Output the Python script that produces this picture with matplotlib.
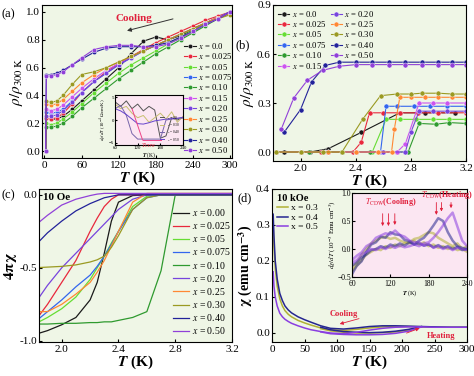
import numpy as np
import matplotlib
matplotlib.use("Agg")
import matplotlib.pyplot as plt

# ---------------- data ----------------
labels_a = ["0.0", "0.025", "0.05", "0.075", "0.10", "0.15", "0.20", "0.25", "0.30", "0.40", "0.50"]
colors = {
    "0.0": "#1a1a1a", "0.00": "#1a1a1a", "0.025": "#e8283c", "0.05": "#66dd33", "0.075": "#3366ee",
    "0.10": "#2f9a2f", "0.15": "#cc55ee", "0.20": "#7744dd", "0.25": "#ff8833",
    "0.30": "#9a9a22", "0.40": "#222299", "0.50": "#9040d8",
}

# panel (a): rho/rho300 vs T
T_a = [1.8, 3, 10, 20, 30, 45, 60, 80, 100, 120, 140, 160, 180, 200, 220, 240, 260, 280, 300]
rho_a = {
    "0.0":   [0, 0.24, 0.23, 0.23, 0.25, 0.30, 0.36, 0.44, 0.52, 0.60, 0.70, 0.79, 0.82, 0.80, 0.83, 0.87, 0.92, 0.96, 1.00],
    "0.025": [0, 0.24, 0.23, 0.24, 0.27, 0.34, 0.42, 0.50, 0.57, 0.63, 0.68, 0.73, 0.78, 0.82, 0.86, 0.90, 0.94, 0.97, 1.00],
    "0.05":  [0, 0.20, 0.19, 0.20, 0.23, 0.28, 0.34, 0.42, 0.49, 0.56, 0.62, 0.67, 0.72, 0.77, 0.82, 0.87, 0.91, 0.96, 1.00],
    "0.075": [0, 0.28, 0.27, 0.28, 0.30, 0.36, 0.42, 0.50, 0.56, 0.62, 0.67, 0.72, 0.76, 0.80, 0.84, 0.88, 0.92, 0.96, 1.00],
    "0.10":  [0, 0.175, 0.17, 0.18, 0.20, 0.25, 0.31, 0.38, 0.45, 0.52, 0.58, 0.64, 0.70, 0.75, 0.80, 0.85, 0.90, 0.95, 0.99],
    "0.15":  [0, 0.30, 0.29, 0.30, 0.33, 0.39, 0.45, 0.52, 0.58, 0.63, 0.68, 0.72, 0.76, 0.80, 0.84, 0.88, 0.92, 0.96, 1.00],
    "0.20":  [0, 0.25, 0.25, 0.26, 0.29, 0.35, 0.42, 0.50, 0.56, 0.62, 0.67, 0.72, 0.76, 0.80, 0.84, 0.88, 0.92, 0.96, 1.00],
    "0.25":  [0, 0.335, 0.33, 0.34, 0.37, 0.43, 0.49, 0.55, 0.60, 0.64, 0.68, 0.72, 0.76, 0.80, 0.84, 0.88, 0.92, 0.96, 0.99],
    "0.30":  [0, 0.36, 0.35, 0.36, 0.40, 0.48, 0.55, 0.57, 0.60, 0.64, 0.68, 0.72, 0.76, 0.80, 0.84, 0.88, 0.92, 0.95, 0.98],
    "0.40":  [0, 0.55, 0.55, 0.56, 0.58, 0.62, 0.66, 0.71, 0.74, 0.75, 0.75, 0.75, 0.76, 0.78, 0.82, 0.86, 0.91, 0.95, 1.00],
    "0.50":  [0, 0.54, 0.54, 0.55, 0.57, 0.62, 0.67, 0.73, 0.75, 0.76, 0.76, 0.75, 0.75, 0.77, 0.81, 0.86, 0.91, 0.95, 1.00],
}

# panel (a) inset: drho/dT
T_ai = [60, 75, 90, 105, 120, 135, 150, 165, 180, 195, 210, 225, 240]
drho_ai = {
    "0.0":  [4.0, 3.0, 4.2, 2.5, 3.5, 2.0, 3.0, 2.2, -4.0, -3.5, 0.5, 0.0, 0.5],
    "0.30": [3.5, 2.5, 3.0, 1.5, 0.5, 1.0, -0.5, 0.5, 1.5, 0.2, 1.8, -0.5, 0.8],
    "0.40": [2.5, 3.2, 1.0, -3.0, -4.2, -4.2, -4.2, -4.2, -4.2, 0.0, 0.2, 0.3, 0.5],
    "0.50": [2.5, 2.0, 1.2, 0.2, -0.8, -0.9, -0.6, -0.2, 0.0, 0.2, 0.3, 0.4, 0.6],
}

# panel (b): low-T transitions
T_b = {
    "0.0":   [1.88, 2.07, 2.2, 2.44, 2.72, 2.9, 3.12],
    "0.025": [1.82, 2.0, 2.15, 2.3, 2.38, 2.44, 2.5, 2.6, 2.72, 2.85, 3.0, 3.2],
    "0.05":  [1.82, 2.0, 2.2, 2.4, 2.52, 2.62, 2.72, 2.84, 2.96, 3.08, 3.2],
    "0.075": [1.82, 2.0, 2.2, 2.4, 2.58, 2.62, 2.7, 2.82, 2.94, 3.06, 3.2],
    "0.10":  [1.82, 2.06, 2.3, 2.5, 2.7, 2.78, 2.86, 2.98, 3.08, 3.2],
    "0.15":  [1.82, 2.0, 2.2, 2.4, 2.6, 2.7, 2.76, 2.86, 2.96, 3.06, 3.2],
    "0.20":  [1.82, 2.0, 2.2, 2.4, 2.6, 2.76, 2.8, 2.86, 2.96, 3.06, 3.2],
    "0.25":  [1.82, 2.0, 2.2, 2.4, 2.56, 2.66, 2.68, 2.72, 2.8, 2.9, 3.0, 3.1, 3.2],
    "0.30":  [1.82, 2.0, 2.16, 2.3, 2.45, 2.58, 2.7, 2.8, 2.88, 3.0, 3.1, 3.2],
    "0.40":  [1.88, 2.0, 2.08, 2.18, 2.28, 2.4, 2.52, 2.64, 2.76, 2.88, 3.0, 3.1, 3.2],
    "0.50":  [1.86, 1.95, 2.05, 2.16, 2.28, 2.4, 2.52, 2.64, 2.76, 2.88, 3.0, 3.1, 3.2],
}
rho_b = {
    "0.0":   [0, 0, 0.02, 0.12, 0.24, 0.24, 0.24],
    "0.025": [0, 0, 0, 0, 0, 0.06, 0.24, 0.24, 0.24, 0.24, 0.24, 0.24],
    "0.05":  [0, 0, 0, 0, 0, 0.2, 0.2, 0.2, 0.2, 0.2, 0.2],
    "0.075": [0, 0, 0, 0, 0, 0.28, 0.28, 0.28, 0.28, 0.28, 0.28],
    "0.10":  [0, 0, 0, 0, 0, 0, 0.175, 0.17, 0.18, 0.175],
    "0.15":  [0, 0, 0, 0, 0, 0, 0.05, 0.3, 0.3, 0.3, 0.3],
    "0.20":  [0, 0, 0, 0, 0, 0, 0.12, 0.25, 0.25, 0.25, 0.25],
    "0.25":  [0, 0, 0, 0, 0, 0, 0.14, 0.335, 0.335, 0.335, 0.335, 0.335, 0.335],
    "0.30":  [0, 0, 0, 0, 0.2, 0.345, 0.355, 0.355, 0.36, 0.36, 0.355, 0.355],
    "0.40":  [0.12, 0.26, 0.43, 0.53, 0.55, 0.55, 0.55, 0.55, 0.55, 0.55, 0.55, 0.55, 0.55],
    "0.50":  [0.14, 0.33, 0.44, 0.50, 0.525, 0.535, 0.535, 0.535, 0.535, 0.535, 0.535, 0.535, 0.535],
}
labels_b_col = ["0.0", "0.025", "0.05", "0.075", "0.10", "0.15", "0.20", "0.25", "0.30", "0.40", "0.50"]

# panel (c): 4 pi chi vs T (10 Oe)
labels_c = ["0.00", "0.025", "0.05", "0.075", "0.10", "0.20", "0.25", "0.30", "0.40", "0.50"]
T_c = [1.8, 1.9, 2.0, 2.1, 2.2, 2.25, 2.3, 2.35, 2.4, 2.5, 2.6, 2.7, 2.8, 3.0, 3.2]
chi_c = {
    "0.00":  [-0.96, -0.93, -0.89, -0.84, -0.72, -0.6, -0.4, -0.18, -0.05, -0.005, 0.0, 0.0, 0.0, 0.0, 0.0],
    "0.025": [-0.88, -0.75, -0.6, -0.45, -0.25, -0.16, -0.08, -0.03, 0.0, 0.0, 0.0, 0.0, 0.0, 0.0, 0.0],
    "0.05":  [-0.89, -0.84, -0.78, -0.7, -0.58, -0.5, -0.42, -0.33, -0.25, -0.08, -0.01, 0.0, 0.0, 0.0, 0.0],
    "0.075": [-0.88, -0.8, -0.72, -0.63, -0.55, -0.49, -0.42, -0.34, -0.25, -0.1, -0.02, 0.0, 0.0, 0.0, 0.0],
    "0.10":  [-0.885, -0.885, -0.88, -0.88, -0.875, -0.875, -0.87, -0.87, -0.86, -0.84, -0.8, -0.52, 0.0, 0.0, 0.0],
    "0.20":  [-0.76, -0.62, -0.5, -0.4, -0.3, -0.25, -0.2, -0.15, -0.1, -0.03, 0.0, 0.0, 0.0, 0.0, 0.0],
    "0.25":  [-0.8, -0.8, -0.75, -0.68, -0.6, -0.53, -0.45, -0.35, -0.25, -0.05, 0.01, 0.01, 0.01, 0.01, 0.01],
    "0.30":  [-0.5, -0.495, -0.49, -0.48, -0.46, -0.445, -0.42, -0.36, -0.28, -0.1, -0.02, 0.0, 0.0, 0.0, 0.0],
    "0.40":  [-0.36, -0.26, -0.18, -0.11, -0.06, -0.04, -0.02, -0.01, 0.0, 0.0, 0.0, 0.0, 0.0, 0.0, 0.0],
    "0.50":  [-0.22, -0.14, -0.07, -0.03, -0.005, 0.005, 0.01, 0.01, 0.01, 0.01, 0.01, 0.01, 0.01, 0.01, 0.01],
}

# panel (d): chi vs T (10 kOe), cooling branch + heating branch
labels_d = ["0.3", "0.4", "0.5"]
colors_d = {"0.3": "#b0b035", "0.4": "#262690", "0.5": "#8a3ee0"}
T_d = [1.8, 3, 5, 8, 12, 16, 20, 25, 30, 40, 50, 60, 75, 90, 110, 130, 150, 170, 190, 210, 230, 250, 275, 300]
chi_d_cool = {
    "0.3": [0.30, 0.24, 0.18, 0.13, 0.095, 0.075, 0.062, 0.052, 0.045, 0.035, 0.028, 0.022, 0.014, 0.009, 0.007, 0.010, 0.014, 0.017, 0.018, 0.018, 0.017, 0.016, 0.016, 0.016],
    "0.4": [0.33, 0.27, 0.20, 0.15, 0.11, 0.090, 0.075, 0.064, 0.056, 0.045, 0.037, 0.030, 0.020, 0.013, 0.011, 0.014, 0.018, 0.020, 0.020, 0.019, 0.018, 0.017, 0.016, 0.016],
    "0.5": [0.17, 0.13, 0.10, 0.075, 0.055, 0.045, 0.038, 0.032, 0.027, 0.020, 0.014, 0.009, 0.004, 0.000, -0.002, 0.002, 0.008, 0.013, 0.016, 0.017, 0.017, 0.016, 0.016, 0.016],
}
T_dh = [75, 90, 110, 130, 150, 170, 190, 210, 230]
chi_d_heat = {
    "0.3": [0.012, 0.006, 0.002, 0.000, 0.000, 0.001, 0.003, 0.008, 0.017],
    "0.4": [0.016, 0.009, 0.004, 0.002, 0.001, 0.002, 0.005, 0.010, 0.018],
    "0.5": [0.003, -0.002, -0.004, -0.005, -0.005, -0.004, -0.001, 0.005, 0.017],
}

# panel (d) inset: dchi/dT
T_di = [60, 67.5, 75, 82.5, 90, 97.5, 105, 112.5, 120, 127.5, 135, 142.5, 150,
        157.5, 165, 172.5, 180, 187.5, 195, 202.5, 210, 217.5, 225, 232.5, 240]
dchi_cool = {
    "0.3": [-0.35, -0.25, -0.1, 0.0, 0.1, 0.15, 0.2, 0.22, 0.18, 0.2, 0.15, 0.12, 0.1, 0.15, 0.08, 0.12, 0.05, 0.08, 0.02, 0.05, 0.0, 0.03, -0.02, 0.0, -0.05],
    "0.4": [-0.45, -0.3, -0.22, -0.05, 0.08, 0.12, 0.22, 0.2, 0.3, 0.26, 0.25, 0.16, 0.14, 0.08, 0.1, 0.06, 0.08, 0.03, 0.07, 0.02, 0.05, 0.0, 0.04, -0.02, 0.0],
    "0.5": [-0.2, -0.12, -0.06, 0.05, 0.1, 0.2, 0.24, 0.28, 0.26, 0.33, 0.25, 0.22, 0.15, 0.12, 0.12, 0.06, 0.09, 0.02, 0.05, 0.0, 0.03, -0.02, 0.02, 0.0, -0.02],
}
dchi_heat = {
    "0.3": [-0.4, -0.3, -0.2, -0.1, -0.05, 0.0, -0.02, 0.05, 0.02, 0.08, 0.05, 0.1, 0.12, 0.18, 0.2, 0.25, 0.3, 0.28, 0.2, 0.15, 0.1, 0.05, 0.1, 0.0, 0.05],
    "0.4": [-0.3, -0.24, -0.15, -0.1, -0.02, 0.0, 0.05, 0.02, 0.08, 0.05, 0.1, 0.06, 0.12, 0.08, 0.15, 0.2, 0.3, 0.42, 0.55, 0.5, 0.3, 0.15, 0.05, 0.02, 0.0],
    "0.5": [-0.25, -0.2, -0.1, -0.05, 0.0, -0.02, 0.03, 0.0, 0.05, 0.02, 0.06, 0.03, 0.05, 0.08, 0.05, 0.1, 0.12, 0.2, 0.3, 0.42, 0.55, 0.65, 0.4, 0.15, 0.05],
}

# ---------------- style ----------------
plt.rcParams.update({
    "font.family": "Liberation Serif",
    "mathtext.fontset": "stix",
    "font.size": 8,
    "xtick.direction": "in",
    "ytick.direction": "in",
    "xtick.major.size": 2.5,
    "ytick.major.size": 2.5,
    "xtick.major.pad": 2,
    "ytick.major.pad": 1.5,
    "axes.linewidth": 0.8,
})

W, H = 474, 376
fig = plt.figure(figsize=(W / 100, H / 100), dpi=100)
fig.patch.set_facecolor("white")


def px_axes(left, top, right, bottom):
    return fig.add_axes([left / W, 1 - bottom / H, (right - left) / W, (bottom - top) / H])


bg = "#eff6e6"
pink = "#fbe6f2"
red = "#e0203c"
xlab = r"$\mathbfit{T}$ (K)"


def xl(s):
    return r"$\mathit{x}$ = " + s


# ---------- (a) ----------
ax = px_axes(42, 5, 232, 158)
ax.set_facecolor(bg)
for k in labels_a:
    ax.plot(T_a, rho_a[k], "-o", color=colors[k], lw=0.8, ms=3.2, mec="white", mew=0.3, label=xl(k))
ax.set_xlim(-4, 303)
ax.set_ylim(-0.05, 1.05)
ax.set_xticks([0, 60, 120, 180, 240, 300])
ax.set_yticks([0, 0.2, 0.4, 0.6, 0.8, 1.0])
ax.set_xlabel(xlab, fontsize=11, fontweight="bold", labelpad=0)
ax.set_ylabel(r"$\rho/\rho_{\rm 300\ K}$", fontsize=11, labelpad=1)
ax.legend(loc="upper right", bbox_to_anchor=(1.03, 0.8), fontsize=6.2, frameon=False,
          handlelength=1.3, labelspacing=0.05, handletextpad=0.3, borderpad=0.1)
ax.text(145, 0.95, "Cooling", color=red, fontsize=8, fontweight="bold", ha="center", va="center")
ax.annotate("", xy=(129, 0.86), xytext=(212, 0.955),
            arrowprops=dict(arrowstyle="-|>", color="#333333", lw=0.7, mutation_scale=6))
fig.text(1 / W, 1 - 14 / H, "(a)", fontsize=9, va="center")

axi = px_axes(115, 95, 183, 145)
axi.set_facecolor(pink)
inset_cols = {"0.0": "#555555", "0.30": "#c8c070", "0.40": "#7766aa", "0.50": "#6644cc"}
for k, arr in drho_ai.items():
    axi.plot(T_ai, arr, color=inset_cols[k], lw=0.7, label=xl(k))
axi.plot([105, 133], [2.5, -4.4], color="#ee4488", lw=0.7)
axi.plot([133, 182], [-4.4, -4.4], color="#ee4488", lw=0.7)
axi.text(128, -4.6, r"$T_{\rm CDW}$", color=red, fontsize=4.5, fontweight="bold", va="top")
axi.set_xlim(60, 240)
axi.set_ylim(-5.5, 5.5)
axi.set_xticks([60, 120, 180, 240])
axi.set_yticks([-5, 0, 5])
axi.tick_params(labelsize=3.5, length=1.2, pad=0.8)
axi.set_xlabel(xlab, fontsize=4, labelpad=0)
axi.set_ylabel(r"$d\rho/dT$ (10$^{-4}$ $\Omega$cm/K)", fontsize=3.5, labelpad=0)
axi.legend(loc="lower right", fontsize=2.5, frameon=False, handlelength=1.2, labelspacing=0.1,
           borderpad=0.2)

# ---------- (b) ----------
ax = px_axes(273, 5, 466, 161)
ax.set_facecolor(bg)
for k in labels_b_col:
    ax.plot(T_b[k], rho_b[k], "-o", color=colors[k], lw=0.8, ms=3.6, mec="white", mew=0.3, label=xl(k))
ax.set_xlim(1.8, 3.2)
ax.set_ylim(-0.055, 0.9)
ax.set_xticks([2.0, 2.4, 2.8, 3.2])
ax.set_yticks([0.0, 0.3, 0.6, 0.9])
ax.set_xlabel(xlab, fontsize=11, fontweight="bold", labelpad=0)
ax.set_ylabel(r"$\rho/\rho_{\rm 300\ K}$", fontsize=11, labelpad=1)
ax.legend(loc="upper left", ncol=2, fontsize=6.2, frameon=False, handlelength=1.3,
          labelspacing=0.05, handletextpad=0.3, columnspacing=0.5, borderpad=0.1,
          bbox_to_anchor=(0.0, 1.01))
fig.text(236 / W, 1 - 45 / H, "(b)", fontsize=9, va="center")

# ---------- (c) ----------
ax = px_axes(39, 189, 232, 342)
ax.set_facecolor(bg)
for k in labels_c:
    ax.plot(T_c, chi_c[k], color=colors[k], lw=0.9, label=xl(k))
ax.set_xlim(1.84, 3.2)
ax.set_ylim(-1.008, 0.04)
ax.set_xticks([2.0, 2.4, 2.8, 3.2])
ax.set_yticks([-1.0, -0.5, 0.0])
ax.set_yticklabels(["-1.0", "-0.5", "0.0"])
ax.set_xlabel(xlab, fontsize=11, fontweight="bold", labelpad=0)
ax.set_ylabel(r"$\mathbf{4\pi\chi}$", fontsize=11, labelpad=0)
ax.text(0.02, 0.975, "10 Oe", transform=ax.transAxes, fontsize=8, fontweight="bold", va="top")
ax.legend(loc="center right", bbox_to_anchor=(1.02, 0.46), fontsize=7, frameon=False,
          handlelength=1.6, labelspacing=0.22, handletextpad=0.3, borderpad=0.1)
fig.text(1 / W, 1 - 195 / H, "(c)", fontsize=9, va="center")

# ---------- (d) ----------
ax = px_axes(272, 189, 467, 342)
ax.set_facecolor(bg)
for k in labels_d:
    ax.plot(T_d, chi_d_cool[k], color=colors_d[k], lw=1.1, label=r"x = " + k)
    ax.plot(T_dh, chi_d_heat[k], color=colors_d[k], lw=1.1)
ax.set_xlim(0, 300)
ax.set_ylim(-0.025, 0.4)
ax.set_xticks([0, 50, 100, 150, 200, 250, 300])
ax.set_yticks([0.0, 0.1, 0.2, 0.3, 0.4])
ax.set_xlabel(xlab, fontsize=11, fontweight="bold", labelpad=0)
ax.set_ylabel(r"$\mathbf{\chi}$ (emu cm$^{\mathbf{-3}}$)", fontsize=10, fontweight="bold", labelpad=1)
leg = ax.legend(loc="upper left", title="10 kOe", fontsize=6.8, frameon=False, handlelength=1.2,
                labelspacing=0.1, handletextpad=0.3, borderpad=0.2, borderaxespad=0.3,
                alignment="left")
leg.get_title().set_fontweight("bold")
leg.get_title().set_fontsize(7.5)
ax.text(111, 0.048, "Cooling", color=red, fontsize=6, fontweight="bold", ha="center")
ax.annotate("", xy=(100, 0.023), xytext=(138, 0.042),
            arrowprops=dict(arrowstyle="-|>", color=red, lw=0.6, mutation_scale=5))
ax.text(238, -0.008, "Heating", color=red, fontsize=6, fontweight="bold", ha="left", va="center")
ax.annotate("", xy=(231, 0.016), xytext=(203, -0.003),
            arrowprops=dict(arrowstyle="-|>", color=red, lw=0.6, mutation_scale=5))
fig.text(237 / W, 1 - 198 / H, "(d)", fontsize=9, va="center")

axi = px_axes(352, 193, 467, 277)
axi.set_facecolor(pink)
for k in labels_d:
    axi.plot(T_di, dchi_cool[k], color=colors_d[k], lw=1.8, alpha=0.55)
    axi.plot(T_di, dchi_heat[k], color=colors_d[k], lw=1.8, alpha=0.55)
axi.set_xlim(60, 240)
axi.set_ylim(-0.5, 1.0)
axi.set_xticks([60, 120, 180, 240])
axi.set_yticks([-0.5, 0.0, 0.5, 1.0])
axi.tick_params(labelsize=5.5, length=2)
axi.tick_params(axis="x", pad=2.2)
axi.tick_params(axis="y", pad=0.6)
axi.set_xlabel(xlab, fontsize=4.5, labelpad=0.5)
axi.set_ylabel(r"$d\chi/dT$ (10$^{-3}$ Emu cm$^{-3}$)", fontsize=5, labelpad=-0.5)
axi.text(120, 0.8, r"$T_{\rm CDW}$(Cooling)", color=red, fontsize=5.8, fontweight="bold", ha="center")
axi.text(208, 0.93, r"$T_{\rm CDW}$(Heating)", color=red, fontsize=5.8, fontweight="bold", ha="center")
for xa, yb in [(108, 0.36), (117, 0.36), (127, 0.38)]:
    axi.annotate("", xy=(xa, yb), xytext=(xa, 0.68),
                 arrowprops=dict(arrowstyle="-|>", color=red, lw=0.6, mutation_scale=4))
for xa, yb in [(192, 0.56), (200, 0.62), (215, 0.68)]:
    axi.annotate("", xy=(xa, yb), xytext=(xa, 0.88),
                 arrowprops=dict(arrowstyle="-|>", color=red, lw=0.6, mutation_scale=4))

fig.savefig("out.png", dpi=100)
